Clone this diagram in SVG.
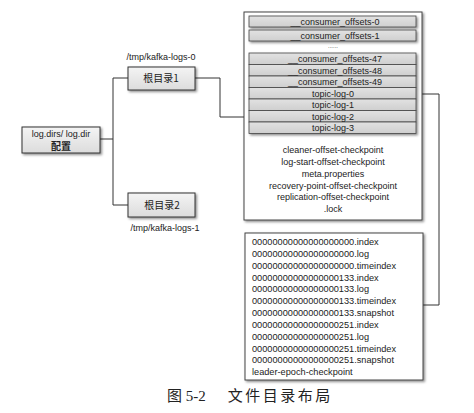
<svg xmlns="http://www.w3.org/2000/svg" width="474" height="413" viewBox="0 0 474 413">
<defs>
<filter id="sh" x="-10%" y="-10%" width="130%" height="140%">
<feDropShadow dx="1.5" dy="1.5" stdDeviation="1" flood-color="#000" flood-opacity="0.45"/>
</filter>
<linearGradient id="ng" x1="0" y1="0" x2="0" y2="1">
<stop offset="0" stop-color="#f4f4f4"/><stop offset="1" stop-color="#dcdcdc"/>
</linearGradient>
<linearGradient id="rg" x1="0" y1="0" x2="0" y2="1">
<stop offset="0" stop-color="#e2e2e2"/><stop offset="1" stop-color="#cfcfcf"/>
</linearGradient>
</defs>
<style>
.t{font-family:"Liberation Sans","Noto Sans CJK SC",sans-serif;fill:#222;font-size:9px}
.p{font-size:9.2px}
.c{text-anchor:middle}
.cj{font-family:"Noto Sans CJK SC",sans-serif;fill:#222;font-size:10px;text-anchor:middle}
.node{fill:url(#ng);stroke:#333;stroke-width:1}
.big{fill:#fff;stroke:#444;stroke-width:1}
.row{fill:url(#rg);stroke:#444;stroke-width:0.8}
.ln{fill:none;stroke:#333;stroke-width:1}
</style>
<rect width="474" height="413" fill="#fff"/>

<g id="connectors">
<polyline class="ln" points="100,139 113,139"/>
<polyline class="ln" points="128,78 113,78 113,205 128,205"/>
<polyline class="ln" points="195,78 220,78 220,117 244,117"/>
<polyline class="ln" points="416,94 439,94 439,305 423,305"/>
</g>

<g id="config">
<rect class="node" x="22" y="127" width="78" height="26" filter="url(#sh)"/>
<text class="t c" x="61" y="137">log.dirs/ log.dir</text>
<text class="cj" x="61" y="150" style="font-weight:bold">配置</text>
</g>

<g id="root1">
<rect class="node" x="128" y="67" width="67" height="23" filter="url(#sh)"/>
<text class="cj" x="161" y="82">根目录1</text>
<text class="t c" x="161" y="60">/tmp/kafka-logs-0</text>
</g>

<g id="root2">
<rect class="node" x="128" y="193" width="67" height="24" filter="url(#sh)"/>
<text class="cj" x="162" y="209">根目录2</text>
<text class="t c" x="165" y="231">/tmp/kafka-logs-1</text>
</g>

<g id="logdir">
<rect class="big" x="244" y="12" width="178" height="208" filter="url(#sh)"/>
<g filter="url(#sh)">
<rect class="row" x="249" y="16" width="167" height="11"/>
<rect class="row" x="249" y="30" width="167" height="11"/>
<rect class="row" x="249" y="53" width="167" height="11.5"/>
<rect class="row" x="249" y="64.5" width="167" height="11.5"/>
<rect class="row" x="249" y="76" width="167" height="11.5"/>
<rect class="row" x="249" y="87.5" width="167" height="11.5"/>
<rect class="row" x="249" y="99" width="167" height="11.5"/>
<rect class="row" x="249" y="110.5" width="167" height="11.5"/>
<rect class="row" x="249" y="122" width="167" height="11.5"/>
</g>
<text class="t c" x="335" y="24.5">__consumer_offsets-0</text>
<text class="t c" x="335" y="38.5">__consumer_offsets-1</text>
<text class="t c" x="333" y="48" style="font-size:6px">......</text>
<text class="t c" x="335" y="62">__consumer_offsets-47</text>
<text class="t c" x="335" y="73.5">__consumer_offsets-48</text>
<text class="t c" x="335" y="85">__consumer_offsets-49</text>
<text class="t c" x="333" y="96.5">topic-log-0</text>
<text class="t c" x="333" y="108">topic-log-1</text>
<text class="t c" x="333" y="119.5">topic-log-2</text>
<text class="t c" x="333" y="131">topic-log-3</text>
<text class="t c" x="333" y="153">cleaner-offset-checkpoint</text>
<text class="t c" x="333" y="165">log-start-offset-checkpoint</text>
<text class="t c" x="333" y="177">meta.properties</text>
<text class="t c" x="333" y="188.5">recovery-point-offset-checkpoint</text>
<text class="t c" x="333" y="200">replication-offset-checkpoint</text>
<text class="t c" x="333" y="212">.lock</text>
</g>

<g id="partition">
<rect class="big" x="245" y="233" width="178" height="147" filter="url(#sh)"/>
<text class="t p" x="252" y="244.5">00000000000000000000.index</text>
<text class="t p" x="252" y="256.5">00000000000000000000.log</text>
<text class="t p" x="252" y="268.5">00000000000000000000.timeindex</text>
<text class="t p" x="252" y="280.5">00000000000000000133.index</text>
<text class="t p" x="252" y="292">00000000000000000133.log</text>
<text class="t p" x="252" y="304">00000000000000000133.timeindex</text>
<text class="t p" x="252" y="316">00000000000000000133.snapshot</text>
<text class="t p" x="252" y="327.5">00000000000000000251.index</text>
<text class="t p" x="252" y="339.5">00000000000000000251.log</text>
<text class="t p" x="252" y="351.5">00000000000000000251.timeindex</text>
<text class="t p" x="252" y="363">00000000000000000251.snapshot</text>
<text class="t p" x="252" y="375">leader-epoch-checkpoint</text>
</g>

<text x="167" y="401" style="font-family:'Liberation Serif','Noto Sans CJK SC',serif;font-size:15px;fill:#222">图 5-2<tspan dx="22" letter-spacing="2.5">文件目录布局</tspan></text>
</svg>
